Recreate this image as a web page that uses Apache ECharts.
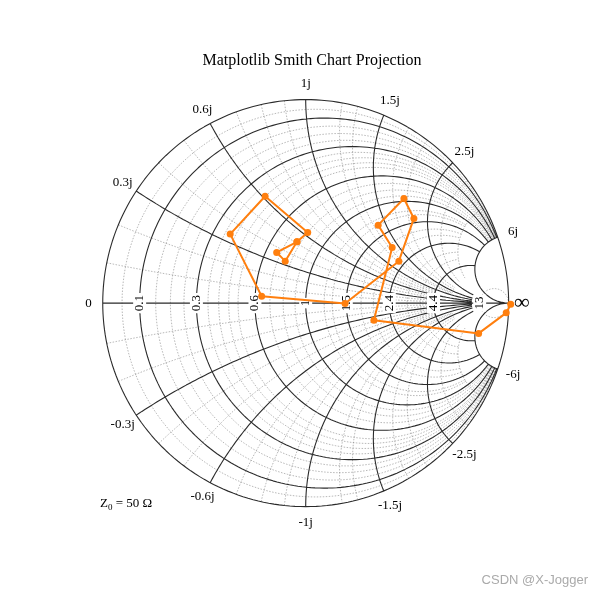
<!DOCTYPE html>
<html>
<head>
<meta charset="utf-8">
<script src="https://cdn.jsdelivr.net/npm/echarts@6/dist/echarts.min.js"></script>
<style>html,body{margin:0;padding:0;background:#fff}#main{width:600px;height:600px}</style>
</head>
<body>
<div id="main"></div>
<script>
// reflection coefficient points (re, im)
var pointsRe = [-0.043, -0.143, -0.101, -0.043, 0.010, -0.200, -0.372, -0.217, 0.194, 0.459, 0.533, 0.484, 0.357, 0.426, 0.336, 0.852, 0.988, 1.010];
var pointsIm = [0.301, 0.249, 0.206, 0.301, 0.347, 0.525, 0.339, 0.034, -0.002, 0.206, 0.416, 0.514, 0.383, 0.273, -0.084, -0.149, -0.048, -0.006];
var majorR = [0.1, 0.3, 0.6, 1, 1.5, 2.4, 4.4, 13];
var rLabels = ['0.1', '0.3', '0.6', '1', '1.5', '2.4', '4.4', '13'];
var majorX = [0.3, 0.6, 1, 1.5, 2.5, 6];
var xLabels = ['0.3j', '0.6j', '1j', '1.5j', '2.5j', '6j'];
var minorR = [0.05, 0.15, 0.2, 0.25, 0.35, 0.4, 0.45, 0.5, 0.7, 0.8, 0.9, 1.2, 1.3, 1.75, 2, 3, 3.6];
var minorX = [0.1, 0.2, 0.4, 0.5, 0.7, 0.8, 0.9, 1.2, 1.3, 1.75, 2, 3, 4];

function gamma(r, x) {
  var d = (r + 1) * (r + 1) + x * x;
  return [(r * r + x * x - 1) / d, 2 * x / d];
}
// constant resistance circle, limited to |x| <= xMax
function rCircle(r, xMax, out) {
  var a = Math.atan(xMax);
  for (var i = 0; i <= 240; i++) {
    out.push(gamma(r, Math.tan(-a + 2 * a * i / 240)));
  }
  out.push(['-', '-']);
}
// constant reactance arc, limited to r <= rMax
function xArc(x, rMax, out) {
  var tm = rMax / (rMax + 1);
  for (var i = 0; i <= 200; i++) {
    var t = i / 200 * tm;
    out.push(gamma(t / (1 - t), x));
  }
  out.push(['-', '-']);
}
var major = [], minor = [];
rCircle(0, 1e6, major);
majorR.forEach(function (r) { if (r < 10) rCircle(r, 6, major); });
major.push([-1, 0], [1, 0], ['-', '-']);
majorX.forEach(function (x) {
  var lim = x >= 6 ? 1e6 : 10;
  xArc(x, lim, major); xArc(-x, lim, major);
});
minorR.forEach(function (r) { rCircle(r, r < 1 ? 6 : 4, minor); });
rCircle(13, 1e6, minor);
minorX.forEach(function (x) { xArc(x, x < 1 ? 4.4 : 6, minor); xArc(-x, x < 1 ? 4.4 : 6, minor); });

var rLab = rLabels.map(function (l, i) { return [gamma(majorR[i], 0)[0], 0, l, 1]; });
var outLab = [[-1.07, 0, '0', 0], [1.065, 0, '∞', 2]];
majorX.forEach(function (x, i) {
  [1, -1].forEach(function (s) {
    var g = gamma(0, s * x);
    var k = 1.08;
    outLab.push([g[0] * k, g[1] * k, (s < 0 ? '-' : '') + xLabels[i], 0]);
  });
});
var labels = rLab.concat(outLab);
var pts = pointsRe.map(function (v, i) { return [v, pointsIm[i]]; });

var font = 'Liberation Serif';
var chart = echarts.init(document.getElementById('main'));
chart.setOption({
  animation: false,
  title: { text: 'Matplotlib Smith Chart Projection', left: 307, top: 48, textAlign: 'center',
    textStyle: { fontFamily: font, fontSize: 16, fontWeight: 'normal', color: '#000' } },
  grid: { left: 11.4, top: 8, width: 590.2, height: 590.2 },
  xAxis: { type: 'value', min: -1.45, max: 1.45, show: false },
  yAxis: { type: 'value', min: -1.45, max: 1.45, show: false },
  graphic: [
    { type: 'text', left: 100, top: 497, style: { text: 'Z{s|0} = 50 Ω', font: '13px ' + font, fill: '#000',
      rich: { s: { fontSize: 9, verticalAlign: 'bottom', padding: [8, 0, 0, 0], fontFamily: font } } } },
    { type: 'text', right: 12, top: 574, style: { text: 'CSDN @X-Jogger', font: '13px sans-serif', fill: '#aaa' } }
  ],
  series: [
    { type: 'line', data: minor, showSymbol: false, silent: true, connectNulls: false, z: 1,
      lineStyle: { color: '#888', width: 0.6, type: [1.5, 1.5] } },
    { type: 'line', data: major, showSymbol: false, silent: true, connectNulls: false, z: 2,
      lineStyle: { color: '#2a2a2a', width: 1.1 } },
    { type: 'custom', data: labels, silent: true, z: 5,
      renderItem: function (params, api) {
        var p = api.coord([api.value(0), api.value(1)]);
        var kind = api.value(3);
        var rot = kind === 1;
        return { type: 'text', x: p[0], y: p[1], rotation: rot ? Math.PI / 2 : 0,
          style: { text: labels[params.dataIndex][2], x: 0, y: 0, align: 'center', verticalAlign: 'middle',
            font: (kind === 2 ? '22px ' : '13px ') + font, fill: '#000',
            backgroundColor: rot ? '#fff' : null, padding: rot ? [0, 2] : 0 } };
      } },
    { type: 'line', data: pts, symbol: 'circle', symbolSize: 7, z: 6,
      lineStyle: { color: '#ff7f0e', width: 2 }, itemStyle: { color: '#ff7f0e' } }
  ]
});
</script>
</body>
</html>
